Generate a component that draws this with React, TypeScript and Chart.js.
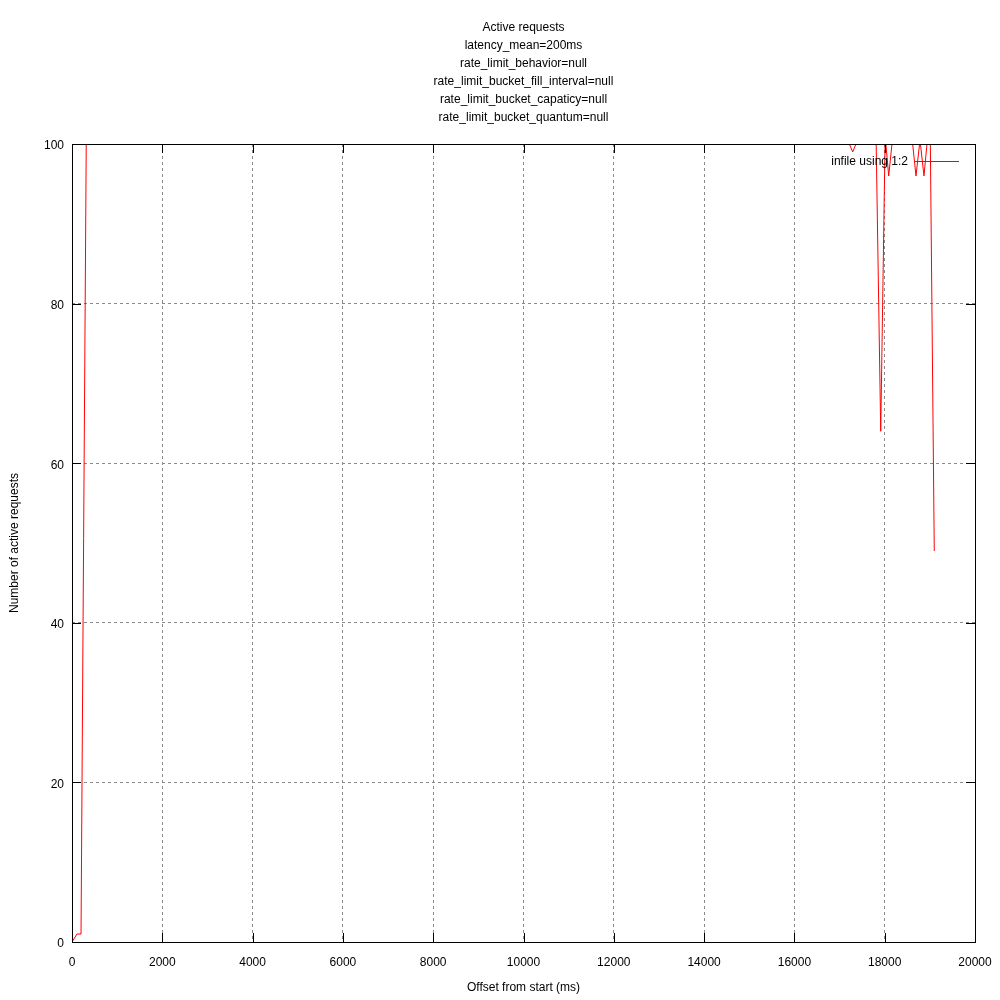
import React, { useEffect, useRef } from "react";
import { Chart, registerables } from "chart.js";

Chart.register(...registerables);

// ---- data ----
const offsetsMs = [0, 110, 200, 320, 17180, 17291, 17400, 17810, 17912, 18010, 18089, 18170, 18610, 18693, 18782, 18870, 18945, 19010, 19098];
const activeRequests = [0, 1, 1, 104, 100.5, 99, 100.5, 100.5, 64, 101, 96, 100.5, 100.5, 96, 100.5, 96, 100.5, 100.5, 49];

const titleLines = [
  "Active requests",
  "latency_mean=200ms",
  "rate_limit_behavior=null",
  "rate_limit_bucket_fill_interval=null",
  "rate_limit_bucket_capaticy=null",
  "rate_limit_bucket_quantum=null",
];
const xAxisTitle = "Offset from start (ms)";
const yAxisTitle = "Number of active requests";
const legendLabel = "infile using 1:2";
const xTickMin = 0;
const xTickMax = 20000;
const xTickStep = 2000;
const yTickMin = 0;
const yTickMax = 100;
const yTickStep = 20;

const FONT = "'Liberation Sans', Arial, sans-serif";

const framePlugin = {
  id: "gnuplotFrame",
  afterDatasetsDraw(chart: any) {
    const { ctx, chartArea } = chart;
    const { left, right, top, bottom } = chartArea;
    const xs = chart.scales.x;
    const ys = chart.scales.y;
    ctx.save();
    ctx.strokeStyle = "#000";
    ctx.lineWidth = 1;
    ctx.setLineDash([]);
    const tl = 9;
    ctx.beginPath();
    xs.ticks.forEach((t: any) => {
      const px = Math.round(xs.getPixelForValue(t.value)) + 0.5;
      ctx.moveTo(px, bottom);
      ctx.lineTo(px, bottom - tl);
      ctx.moveTo(px, top);
      ctx.lineTo(px, top + tl);
    });
    ys.ticks.forEach((t: any) => {
      const py = Math.round(ys.getPixelForValue(t.value)) + 0.5;
      ctx.moveTo(left, py);
      ctx.lineTo(left + tl, py);
      ctx.moveTo(right, py);
      ctx.lineTo(right - tl, py);
    });
    ctx.stroke();
    const l = Math.round(left) + 0.5;
    const r = Math.round(right) + 0.5;
    const t0 = Math.round(top) + 0.5;
    const b = Math.round(bottom) + 0.5;
    ctx.strokeRect(l, t0, r - l, b - t0);
    ctx.restore();
  },
  afterDraw(chart: any) {
    const { ctx, chartArea } = chart;
    const { right, top } = chartArea;
    ctx.save();
    const ly = Math.round(top + 17);
    ctx.font = `12px ${FONT}`;
    ctx.fillStyle = "#000000";
    ctx.textAlign = "right";
    ctx.textBaseline = "middle";
    ctx.fillText(legendLabel, right - 67, ly + 0.5);
    ctx.fillStyle = "#ff0000";
    ctx.fillRect(Math.round(right - 60), ly, 44, 1);
    ctx.restore();
  },
};

export default function App() {
  const ref = useRef<HTMLCanvasElement | null>(null);
  useEffect(() => {
    if (!ref.current) return;
    const points = offsetsMs.map((x, i) => ({ x, y: activeRequests[i] }));
    const chart = new Chart(ref.current, {
      type: "line",
      data: {
        datasets: [
          {
            label: legendLabel,
            data: points,
            borderColor: "#ff0000",
            borderWidth: 1,
            pointRadius: 0,
            tension: 0,
            fill: false,
            clip: 0,
          },
        ],
      },
      options: {
        animation: false,
        responsive: false,
        devicePixelRatio: 1,
        color: "#000",
        layout: { padding: { top: 0, right: 25, left: 0, bottom: 0 } },
        plugins: {
          legend: { display: false },
          tooltip: { enabled: false },
          title: {
            display: true,
            text: titleLines,
            fullSize: false,
            color: "#000",
            font: { family: FONT, size: 12, weight: "normal", lineHeight: 1.5 },
            padding: { top: 19, bottom: 17 },
          },
        },
        scales: {
          x: {
            type: "linear",
            min: xTickMin,
            max: xTickMax,
            afterFit(scale: any) {
              scale.height = 58;
              scale.paddingLeft = 0;
              scale.paddingRight = 0;
            },
            ticks: {
              stepSize: xTickStep,
              color: "#000",
              padding: 13,
              maxRotation: 0,
              autoSkip: false,
              font: { family: FONT, size: 12 },
              callback: (v: any) => String(v),
            },
            grid: { color: "#8a8a8a", lineWidth: 1, drawTicks: false },
            border: { display: false, dash: [3, 3] },
            title: {
              display: true,
              text: xAxisTitle,
              color: "#000",
              font: { family: FONT, size: 12 },
              padding: { top: 0, bottom: 5 },
            },
          },
          y: {
            type: "linear",
            min: yTickMin,
            max: yTickMax,
            afterFit(scale: any) {
              scale.width = 72;
              scale.paddingTop = 0;
              scale.paddingBottom = 0;
            },
            ticks: {
              stepSize: yTickStep,
              color: "#000",
              padding: 8,
              labelOffset: 2,
              font: { family: FONT, size: 12 },
              callback: (v: any) => String(v),
            },
            grid: { color: "#8a8a8a", lineWidth: 1, drawTicks: false },
            border: { display: false, dash: [3, 3] },
            title: {
              display: true,
              text: yAxisTitle,
              color: "#000",
              font: { family: FONT, size: 12 },
              padding: { top: 7, bottom: 0 },
            },
          },
        },
      },
      plugins: [framePlugin],
    });
    return () => chart.destroy();
  }, []);
  return (
    <div style={{ position: "absolute", left: 0, top: 0, width: 1000, height: 1000, background: "#fff" }}>
      <canvas ref={ref} width={1000} height={1000} />
    </div>
  );
}
